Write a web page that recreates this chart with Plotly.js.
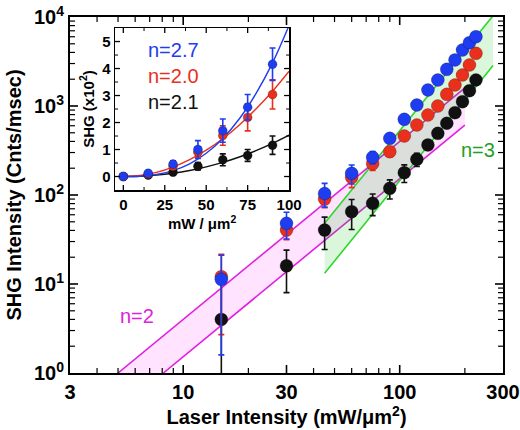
<!DOCTYPE html>
<html>
<head>
<meta charset="utf-8">
<script src="https://cdn.plot.ly/plotly-3.0.1.min.js"></script>
<style>html,body{margin:0;padding:0;background:#fff;}#chart{width:520px;height:430px;}</style>
</head>
<body>
<div id="chart"></div>
<script>
// ---- main plot data (laser intensity, mW/um^2) ----
var laserX = [15, 30, 45, 60, 75, 90, 105, 120, 135, 150, 165, 180, 195, 210, 225];
var blueY  = [11.3, 48, 104, 175, 265, 433, 709, 1026, 1513, 1959, 2584, 3290, 4260, 5145, 6010];
var blueErr= [9.7, 16, 31, 42, 42, 50, 70, 90, 110, 140, 170, 210, 250, 290, 330];
var redY   = [12.1, 40.4, 90, 158, 225, 307, 460, 612, 792, 1000, 1353, 1722, 2230, 2890, 3910];
var redErr = [9.4, 9, 18, 37, 36, 38, 50, 60, 70, 80, 100, 120, 150, 180, 220];
var blackY = [4.0, 16, 40.4, 65, 80.6, 119, 178, 252, 365, 493, 640, 841, 1117, 1486, 1960];
var blackErr=[6, 8, 16, 24, 22, 29, 40, 43, 40, 45, 50, 60, 70, 80, 100];

// guide bands (end points)
var n2UpperX = [5, 200],   n2UpperY = [1, 1600];
var n2LowerX = [8.1, 200], n2LowerY = [1, 610];
var n3UpperX = [45, 270],  n3UpperY = [48, 10368];
var n3LowerX = [45, 270],  n3LowerY = [13.2, 2850];

// ---- inset data (SHG x10^2 vs mW/um^2) ----
var insetX = [0, 15, 30, 45, 60, 75, 90];
var insetBlue = [0, 0.12, 0.46, 1.0, 1.7, 2.57, 4.16];
var insetBlueErr = [0, 0.08, 0.12, 0.33, 0.43, 0.47, 0.6];
var insetRed = [0, 0.09, 0.38, 0.9, 1.52, 2.19, 3.04];
var insetRedErr = [0, 0.06, 0.1, 0.18, 0.36, 0.5, 0.54];
var insetBlack = [0, 0.05, 0.16, 0.38, 0.62, 0.78, 1.16];
var insetBlackErr = [0, 0.04, 0.07, 0.14, 0.22, 0.22, 0.34];
var fitX = [0, 10, 20, 30, 40, 50, 60, 70, 80, 90, 100];
var blueFit = [0, 0.011, 0.073, 0.22, 0.47, 0.86, 1.41, 2.14, 3.07, 4.21, 5.6];
var redFit = [0, 0.039, 0.156, 0.351, 0.624, 0.975, 1.40, 1.91, 2.50, 3.16, 3.9];
var blackFit = [0, 0.012, 0.052, 0.122, 0.223, 0.357, 0.523, 0.723, 0.958, 1.226, 1.53];

// ---- tick labels ----
var xTickVals = [3, 10, 30, 100, 300];
var xTickText = ['3', '10', '30', '100', '300'];
var xMinorVals = [4, 5, 6, 7, 8, 9, 20, 40, 50, 60, 70, 80, 90, 200];
var yTickVals = [1, 10, 100, 1000, 10000];
var yTickText = ['10<sup>0</sup>', '10<sup>1</sup>', '10<sup>2</sup>', '10<sup>3</sup>', '10<sup>4</sup>'];
var yMinorVals = [2,3,4,5,6,7,8,9,20,30,40,50,60,70,80,90,200,300,400,500,600,700,800,900,2000,3000,4000,5000,6000,7000,8000,9000];
var insetXTicks = [0, 25, 50, 75, 100];
var insetXMinor = [12.5, 37.5, 62.5, 87.5];
var insetYTicks = [0, 1, 2, 3, 4, 5];
var insetYMinor = [0.5, 1.5, 2.5, 3.5, 4.5];

var FONT = 'Liberation Sans, Arial, sans-serif';
var BLUE = '#1e3cf0', RED = '#e8301c', BLACK = '#111111';
var MAG = '#e020e0', GREEN = '#2ed62e';

// plot geometry (paper fractions)
var PW = 433, PH = 356;
var INX = [0.104, 0.506], INY = [0.514, 0.969];

function pts(x, y, e, color, size, xa, ya) {
  return {
    x: x, y: y, xaxis: xa, yaxis: ya, type: 'scatter', mode: 'markers',
    marker: {color: color, size: size, line: {color: 'rgba(0,0,0,0.35)', width: 0.6}},
    error_y: {type: 'data', array: e, visible: true, color: color, thickness: 1.6, width: 3},
    hoverinfo: 'skip'
  };
}
function line(x, y, color, w, xa, ya, shape) {
  return {x: x, y: y, xaxis: xa, yaxis: ya, type: 'scatter', mode: 'lines',
    line: {color: color, width: w, shape: shape || 'linear'}, hoverinfo: 'skip'};
}
function band(ux, uy, lx, ly, fill) {
  return {
    x: ux.concat(lx.slice().reverse()), y: uy.concat(ly.slice().reverse()),
    type: 'scatter', mode: 'lines', fill: 'toself', fillcolor: fill,
    line: {width: 0, color: 'rgba(0,0,0,0)'}, xaxis: 'x', yaxis: 'y', hoverinfo: 'skip'
  };
}

var traces = [
  band(n2UpperX, n2UpperY, n2LowerX, n2LowerY, 'rgba(255,0,255,0.11)'),
  line(n2UpperX, n2UpperY, MAG, 1.6, 'x', 'y'),
  line(n2LowerX, n2LowerY, MAG, 1.6, 'x', 'y'),
  band(n3UpperX, n3UpperY, n3LowerX, n3LowerY, 'rgba(0,200,0,0.14)'),
  line(n3UpperX, n3UpperY, GREEN, 1.6, 'x', 'y'),
  line(n3LowerX, n3LowerY, GREEN, 1.6, 'x', 'y'),
  pts(laserX, blackY, blackErr, BLACK, 13, 'x', 'y'),
  pts(laserX, redY, redErr, RED, 13, 'x', 'y'),
  pts(laserX, blueY, blueErr, BLUE, 13, 'x', 'y'),
  line(fitX, blackFit, BLACK, 1.4, 'x2', 'y2', 'spline'),
  line(fitX, redFit, RED, 1.4, 'x2', 'y2', 'spline'),
  line(fitX, blueFit, BLUE, 1.4, 'x2', 'y2', 'spline'),
  pts(insetX, insetBlack, insetBlackErr, BLACK, 9, 'x2', 'y2'),
  pts(insetX, insetRed, insetRedErr, RED, 9, 'x2', 'y2'),
  pts(insetX, insetBlue, insetBlueErr, BLUE, 9, 'x2', 'y2')
];

// ---- tick marks (inside, mirrored) drawn as shapes on the axes' own scales ----
var shapes = [];
function xTicks(xref, vals, yLo, yHi, lenPx, w) {
  vals.forEach(function (v) {
    var l = lenPx / PH;
    shapes.push({type: 'line', layer: 'above', xref: xref, yref: 'paper', x0: v, x1: v, y0: yLo, y1: yLo + l, line: {color: '#000', width: w}});
    shapes.push({type: 'line', layer: 'above', xref: xref, yref: 'paper', x0: v, x1: v, y0: yHi - l, y1: yHi, line: {color: '#000', width: w}});
  });
}
function yTicks(yref, vals, xLo, xHi, lenPx, w) {
  vals.forEach(function (v) {
    var l = lenPx / PW;
    shapes.push({type: 'line', layer: 'above', xref: 'paper', yref: yref, x0: xLo, x1: xLo + l, y0: v, y1: v, line: {color: '#000', width: w}});
    shapes.push({type: 'line', layer: 'above', xref: 'paper', yref: yref, x0: xHi - l, x1: xHi, y0: v, y1: v, line: {color: '#000', width: w}});
  });
}
xTicks('x', xTickVals.filter(function (v) { return v > 3 && v < 300; }), 0, 1, 8, 1.6);
xTicks('x', xMinorVals, 0, 1, 5, 1.2);
yTicks('y', yTickVals.filter(function (v) { return v > 1 && v < 10000; }), 0, 1, 8, 1.6);
yTicks('y', yMinorVals, 0, 1, 5, 1.2);
xTicks('x2', insetXTicks.filter(function (v) { return v < 100; }), INY[0], INY[1], 5, 1.3);
xTicks('x2', insetXMinor, INY[0], INY[1], 3, 1);
yTicks('y2', insetYTicks, INX[0], INX[1], 5, 1.3);
yTicks('y2', insetYMinor, INX[0], INX[1], 3, 1);

function bold(a) { return a.map(function (t) { return '<b>' + t + '</b>'; }); }

var tickFontMain = {family: FONT, size: 20, color: '#000'};
var tickFontInset = {family: FONT, size: 15, color: '#000'};

var layout = {
  width: 520, height: 430,
  margin: {l: 70, r: 17, t: 17, b: 57},
  paper_bgcolor: '#fff', plot_bgcolor: '#fff',
  showlegend: false,
  xaxis: {
    type: 'log', range: [Math.log10(3), Math.log10(300)], domain: [0, 1], anchor: 'y',
    tickmode: 'array', tickvals: xTickVals, ticktext: bold(xTickText), ticks: '',
    showline: true, linewidth: 2, linecolor: '#000', mirror: true,
    showgrid: false, zeroline: false, tickfont: tickFontMain,
    title: {text: '<b>Laser Intensity (mW/μm<sup>2</sup>)</b>', font: {family: FONT, size: 20, color: '#000'}, standoff: 5},
    automargin: false
  },
  yaxis: {
    type: 'log', range: [0, 4], domain: [0, 1], anchor: 'x',
    tickmode: 'array', tickvals: yTickVals, ticktext: bold(yTickText), ticks: '',
    showline: true, linewidth: 2, linecolor: '#000', mirror: true,
    showgrid: false, zeroline: false, tickfont: tickFontMain,
    title: {text: '<b>SHG Intensity (Cnts/msec)</b>', font: {family: FONT, size: 20, color: '#000'}, standoff: 7},
    automargin: false
  },
  xaxis2: {
    range: [-5, 100], domain: INX, anchor: 'y2',
    tickmode: 'array', tickvals: insetXTicks, ticktext: bold(insetXTicks.map(String)), ticks: '',
    showline: true, linewidth: 1.5, linecolor: '#000', mirror: true,
    showgrid: false, zeroline: false, tickfont: tickFontInset,
    title: {text: '<b>mW / μm<sup>2</sup></b>', font: {family: FONT, size: 15, color: '#000'}, standoff: 2},
    automargin: false
  },
  yaxis2: {
    range: [-0.5, 5.5], domain: INY, anchor: 'x2',
    tickmode: 'array', tickvals: insetYTicks, ticktext: bold(insetYTicks.map(String)), ticks: '',
    showline: true, linewidth: 1.5, linecolor: '#000', mirror: true,
    showgrid: false, zeroline: false, tickfont: tickFontInset,
    title: {text: '<b>SHG (x10<sup>2</sup>)</b>', font: {family: FONT, size: 15, color: '#000'}, standoff: 4},
    automargin: false
  },
  shapes: shapes,
  annotations: [
    {xref: 'paper', yref: 'paper', x: 0.154, y: 0.160, text: 'n=2', showarrow: false,
     font: {family: FONT, size: 20, color: '#dd22dd'}, xanchor: 'center', yanchor: 'middle'},
    {xref: 'paper', yref: 'paper', x: 0.942, y: 0.626, text: 'n=3', showarrow: false,
     font: {family: FONT, size: 20, color: '#22a022'}, xanchor: 'center', yanchor: 'middle'},
    {xref: 'paper', yref: 'paper', x: 0.1755, y: 0.907, text: 'n=2.7', showarrow: false,
     font: {family: FONT, size: 20, color: BLUE}, xanchor: 'left', yanchor: 'middle'},
    {xref: 'paper', yref: 'paper', x: 0.1755, y: 0.835, text: 'n=2.0', showarrow: false,
     font: {family: FONT, size: 20, color: RED}, xanchor: 'left', yanchor: 'middle'},
    {xref: 'paper', yref: 'paper', x: 0.1755, y: 0.760, text: 'n=2.1', showarrow: false,
     font: {family: FONT, size: 20, color: BLACK}, xanchor: 'left', yanchor: 'middle'}
  ]
};

Plotly.newPlot('chart', traces, layout, {displayModeBar: false, staticPlot: true});
</script>
</body>
</html>
